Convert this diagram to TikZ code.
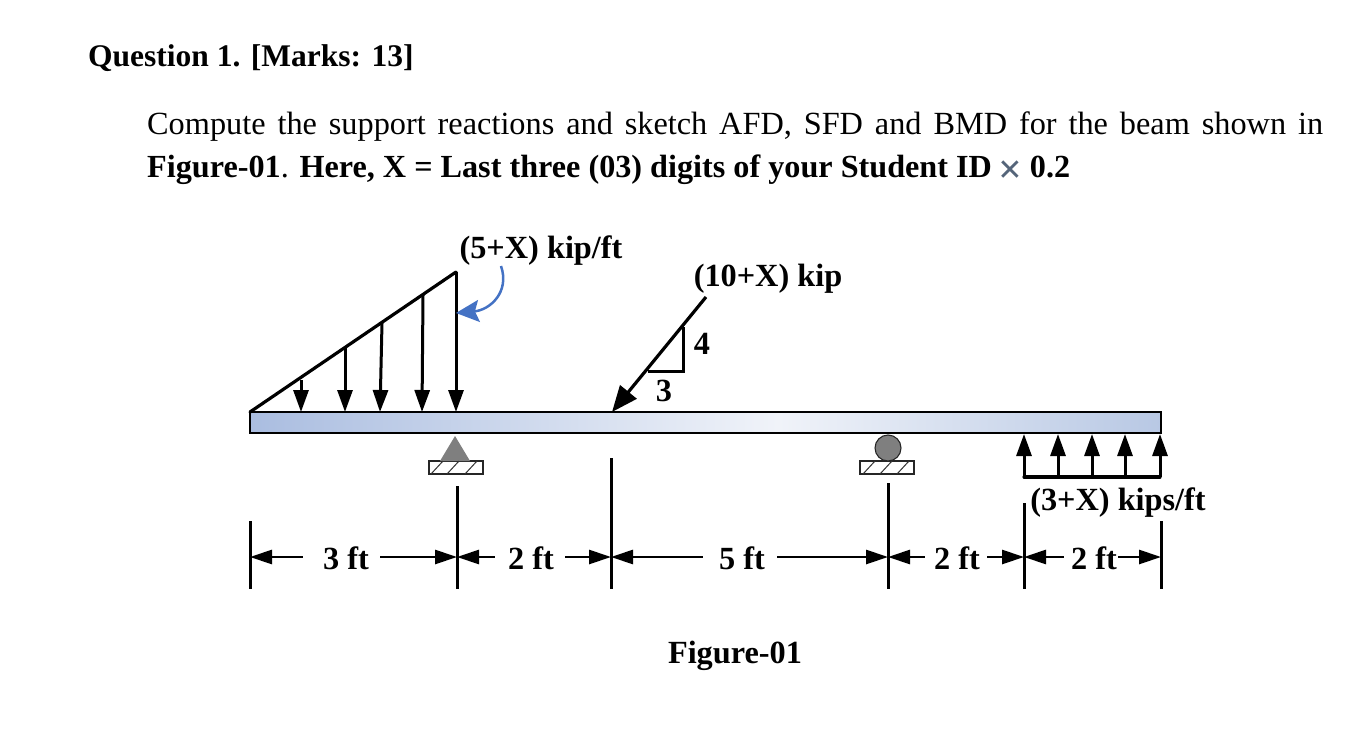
\documentclass[tikz,border=0pt]{standalone}
\usepackage{fontspec}
\setmainfont{Liberation Serif}
\usetikzlibrary{arrows.meta,calc}
\definecolor{beamblue}{HTML}{AABDE0}
\definecolor{beamend}{HTML}{B8C8E4}
\definecolor{beammid}{HTML}{F0F3F9}
\definecolor{curveblue}{HTML}{4472C4}
\definecolor{crossgrey}{HTML}{55657A}
\definecolor{supportgrey}{HTML}{7F7F7F}
\pgfdeclarehorizontalshading{beamshade}{100bp}{color(0bp)=(beamblue);color(25bp)=(beamblue);color(54bp)=(beammid);color(75bp)=(beamend);color(100bp)=(beamend)}
\tikzset{
  px/.style={x=1pt,y=-1pt},
  heavy/.style={line width=3.2pt,line cap=round,line join=round},
  load/.style={line width=3pt,-{Triangle[length=22pt,width=15pt]}},
  force/.style={line width=3.2pt,-{Triangle[length=26pt,width=21pt]}},
  dimline/.style={line width=2.8pt,{Triangle[length=22pt,width=14pt]}-},
  extline/.style={line width=3pt},
  hatch/.style={line width=1pt,draw=black!80},
  basebox/.style={draw=black!85,line width=1.1pt,fill=white,outer sep=0pt},
  label/.style={font=\fontsize{32.3}{36}\selectfont\bfseries,inner sep=0pt},
  body/.style={font=\fontsize{32.3}{43}\selectfont,inner sep=0pt,anchor=north west,text width=1176pt,align=justify},
}
\begin{document}
\begin{tikzpicture}[px]
\useasboundingbox (0,0) rectangle (1348,728);
% texts
\node[font=\fontsize{31.5}{36}\selectfont\bfseries,inner sep=0pt,anchor=base west] (q) at (88,66) {Question 1. [Marks: 13]};
\node[body] (para) at (147,112) {Compute the support reactions and sketch AFD, SFD and BMD for the beam shown in\linebreak
{\fontsize{32.2}{43}\selectfont\textbf{Figure-01}. \textbf{Here, X = Last three (03) digits of your Student ID\kern8pt\makebox[22pt]{\raisebox{-6pt}{\color{crossgrey}\fontsize{42}{42}\selectfont ×}}\kern8pt 0.2}}};
\node[label] (fig) at (735,656) {Figure-01};
% beam
\node[draw,line width=2.7pt,outer sep=0pt,minimum width=911pt,minimum height=21pt,inner sep=0pt,anchor=north west,shading=beamshade] (beam) at (250,412) {};
% distributed triangular load
\coordinate (t0) at (250,412);
\coordinate (t5) at (456,272);
\draw[heavy] (t0) -- (t5);
\foreach \n/\x/\yy/\xe in {1/301/380/301,2/345/348/345,3/382/323/380,4/423/295/422,5/456/272/456}{
  \coordinate (lt\n) at (\x,\yy);
  \coordinate (lb\n) at (\xe,412);
  \draw[load] (lt\n) -- (lb\n);
}
\node[label] (w1) at (541,251) {(5+X) kip/ft};
\coordinate (cs) at (501,266);
\coordinate (ce) at (456,313);
\draw[curveblue,line width=2.5pt,-{Stealth[length=23pt,width=22pt,inset=4pt]}] (cs) .. controls (510,292) and (490,310) .. (ce);
% inclined force
\node[label] (f) at (768,279) {(10+X) kip};
\coordinate (fa) at (706,297);
\coordinate (fb) at (612,412);
\draw[force] (fa) -- (fb);
\coordinate (s1) at (683,327);
\coordinate (s2) at (683,371);
\coordinate (s3) at (648,371);
\draw[line width=3pt,line join=miter] (s1) -- (s2) -- (s3);
\node[label] (n4) at (702,344) {4};
\node[label] (n3) at (664,391) {3};
% pin support
\node[basebox,minimum width=54pt,minimum height=13pt,inner sep=0pt,anchor=north west] (b1) at (429,461) {};
\fill[supportgrey] (455,436) -- (470,461) -- (440,461) -- cycle;
\foreach \x in {431,447,465}{\draw[hatch] (\x,474) -- (\x+12,461);}
% roller support
\node[basebox,minimum width=54pt,minimum height=13pt,inner sep=0pt,anchor=north west] (b2) at (860,461) {};
\node[circle,draw=black!85,fill=supportgrey,line width=1.1pt,minimum size=26pt,inner sep=0pt] (roller) at (888,448) {};
\foreach \x in {863,880,897}{\draw[hatch] (\x,474) -- (\x+12,461);}
% uniform upward load
\coordinate (ua) at (1024,477);
\coordinate (ub) at (1160,477);
\draw[heavy] (ua) -- (ub);
\foreach \n/\x in {1/1024,2/1058,3/1092,4/1125,5/1160}{
  \coordinate (ub\n) at (\x,477);
  \coordinate (ut\n) at (\x,434);
  \draw[load] (ub\n) -- (ut\n);
}
\node[label] (w2) at (1118,503) {(3+X) kips/ft};
% dimension lines
\foreach \n/\x/\yt in {1/250/521,2/457/486,3/611/458,4/888/483,5/1024/503,6/1161/521}{
  \coordinate (vt\n) at (\x,\yt);
  \coordinate (vb\n) at (\x,589);
  \draw[extline] (vt\n) -- (vb\n);
}
\foreach \n/\x/\t in {1/346/3 ft,2/531/2 ft,3/742/5 ft,4/957/2 ft,5/1094/2 ft}{
  \node[label] (dl\n) at (\x,558) {\t};
}
\foreach \m/\n/\pa/\pb in {1/2/303/380,2/3/495/565,3/4/703/777,4/5/925/987,5/6/1064/1118}{
  \coordinate (da\m) at (\pa,557);
  \coordinate (db\m) at (\pb,557);
  \draw[dimline] (vt\m |- da\m) -- (da\m);
  \draw[dimline] (vt\n |- db\m) -- (db\m);
}
\end{tikzpicture}
\end{document}
